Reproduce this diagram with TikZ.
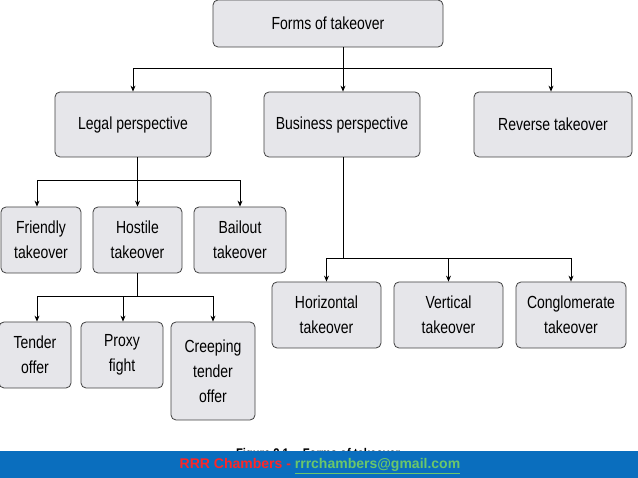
\documentclass[tikz,border=0pt]{standalone}
\usepackage{fontspec}
\setmainfont{Liberation Sans}
\newfontfamily\narrowfont[FakeStretch=0.8]{Liberation Sans}
\usetikzlibrary{arrows.meta}
\definecolor{boxfill}{RGB}{230,230,234}
\definecolor{bar}{RGB}{10,110,190}
\begin{document}
\begin{tikzpicture}[x=1pt,y=-1pt,
  bx/.style={draw=black!75,fill=boxfill,rounded corners=5pt,line width=0.8pt,align=center,font=\narrowfont\fontsize{17.5}{25}\selectfont,inner sep=0pt},
  arr/.style={-{Stealth[length=6pt,width=5pt]},line width=0.8pt},
  ln/.style={line width=0.8pt}]
\useasboundingbox (0,0) rectangle (638,478);
\fill[white] (0,0) rectangle (638,478);
\node[bx,minimum width=230,minimum height=47] (forms) at (328,23.5) {Forms of takeover};
\node[bx,minimum width=156,minimum height=65] (legal) at (133,124.5) {Legal perspective};
\node[bx,minimum width=156,minimum height=65] (bus) at (342,124.5) {Business perspective};
\node[bx,minimum width=158,minimum height=65] (rev) at (553,124.5) {Reverse takeover};
\node[bx,minimum width=80,minimum height=66] (fri) at (41,240) {Friendly\\takeover};
\node[bx,minimum width=89,minimum height=66] (hos) at (137.5,240) {Hostile\\takeover};
\node[bx,minimum width=92,minimum height=66] (bai) at (240,240) {Bailout\\takeover};
\node[bx,minimum width=109,minimum height=66] (hor) at (326.5,315) {Horizontal\\takeover};
\node[bx,minimum width=109,minimum height=66] (ver) at (448.5,315) {Vertical\\takeover};
\node[bx,minimum width=110,minimum height=66] (con) at (571,315) {Conglomerate\\takeover};
\node[bx,minimum width=72,minimum height=66] (ten) at (35,355) {Tender\\offer};
\node[bx,minimum width=82,minimum height=66] (pro) at (122,355) {Proxy\\fight};
\node[bx,minimum width=84,minimum height=98] (cre) at (213,371) {Creeping\\tender\\offer};
% connectors
\coordinate (j1) at (343,68);
\draw[ln] (forms.south -| j1) -- (j1);
\draw[arr] (j1) -| (legal.north);
\draw[arr] (j1) -- (j1 |- bus.north);
\draw[arr] (j1) -| (rev.north -| 551,0);
\coordinate (j2) at (137.5,180);
\draw[ln] (legal.south -| j2) -- (j2);
\draw[arr] (j2) -| (fri.north -| 37,0);
\draw[arr] (j2) -- (hos.north);
\draw[arr] (j2) -| (bai.north);
\coordinate (j3) at (137.5,296);
\draw[ln] (hos.south) -- (j3);
\draw[arr] (j3) -| (ten.north -| 37,0);
\draw[arr] (j3) -| (pro.north -| 123,0);
\draw[arr] (j3) -| (cre.north);
\coordinate (j4) at (343,258);
\draw[ln] (bus.south -| j4) -- (j4);
\draw[arr] (j4) -| (hor.north);
\draw[arr] (j4) -| (ver.north);
\draw[arr] (j4) -| (con.north);
% caption & bar
\node[font=\narrowfont\bfseries\fontsize{14}{16}\selectfont] (cap) at (318,455) {Figure 2.1\quad Forms of takeover};
\fill[bar] (0,451) rectangle (638,478);
\node[font=\bfseries\fontsize{14}{16}\selectfont,text=red!85!white] (foot) at (320,466) {RRR Chambers - \textcolor{green!45!gray!80!white}{\underline{rrrchambers@gmail.com}}};
\end{tikzpicture}
\end{document}
